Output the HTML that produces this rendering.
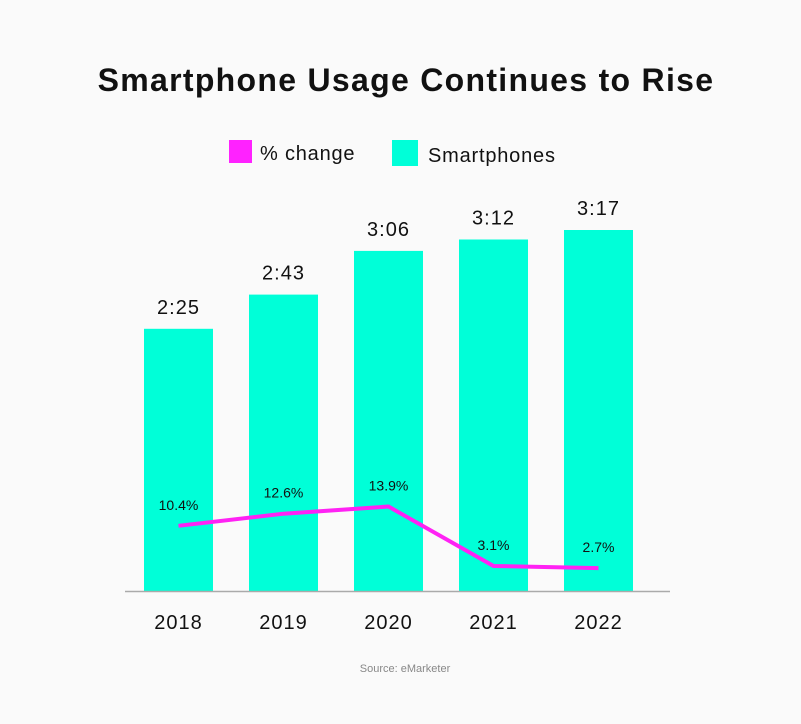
<!DOCTYPE html>
<html><head><meta charset="utf-8"><style>
body{margin:0;background:#fafafa;}
svg{display:block;font-family:"Liberation Sans",sans-serif;}
</style></head><body>
<svg id="chart" width="801" height="724">
<rect width="801" height="724" fill="#fafafa"/>
<text x="406" y="91" text-anchor="middle" font-size="32" font-weight="bold" letter-spacing="1.3" fill="#111">Smartphone Usage Continues to Rise</text>
<g>
<rect x="229" y="140" width="23" height="23" fill="#ff22ff"/>
<text x="260" y="160" font-size="20" letter-spacing="0.8" fill="#111">% change</text>
<rect x="392" y="140" width="26" height="26" fill="#00ffd8"/>
<text x="428" y="162" font-size="20" letter-spacing="0.8" fill="#111">Smartphones</text>
</g>
<g id="plot"></g>
<line x1="125" y1="591.5" x2="670" y2="591.5" stroke="#aaa" stroke-width="1.5"/>
<text x="405" y="672" text-anchor="middle" font-size="11" fill="#888">Source: eMarketer</text>
</svg>
<script>
const categories=["2018","2019","2020","2021","2022"];
const minutes=[145,163,186,192,197];
const timeLabels=["2:25","2:43","3:06","3:12","3:17"];
const pctChange=[10.4,12.6,13.9,3.1,2.7];
const pctLabels=["10.4%","12.6%","13.9%","3.1%","2.7%"];
const NS="http://www.w3.org/2000/svg";
const g=document.getElementById('plot');
const base=591, x0=144, step=105, bw=69;
const xPos=i=>x0+i*step;
const yBar=v=>base-(v-7)*1.9;
const yLine=v=>583-v*5.5;
function mk(t,a){const e=document.createElementNS(NS,t);for(const k in a)e.setAttribute(k,a[k]);g.appendChild(e);return e;}
categories.forEach((c,i)=>{
 const y=yBar(minutes[i]);
 const r=mk('rect',{x:xPos(i),y:y,width:bw,height:base-y,fill:'#00ffd8'});
 
 
 const t=mk('text',{x:xPos(i)+bw/2,y:y-15,'text-anchor':'middle','font-size':'20','letter-spacing':'1',fill:'#111'});
 t.textContent=timeLabels[i];
 
 
 const xl=mk('text',{x:xPos(i)+bw/2,y:629,'text-anchor':'middle','font-size':'20','letter-spacing':'1',fill:'#111'});
 xl.textContent=c;
 
 
});
const pts=pctChange.map((v,i)=>(xPos(i)+bw/2)+','+yLine(v)).join(' ');
const pl=mk('polyline',{points:pts,fill:'none',stroke:'#ff22f4','stroke-width':'4','stroke-linejoin':'round'});


pctChange.forEach((v,i)=>{
 const t=mk('text',{x:xPos(i)+bw/2,y:yLine(v)-16,'text-anchor':'middle','font-size':'14',fill:'#111'});
 t.textContent=pctLabels[i];
 
 
});
</script>
</body></html>
